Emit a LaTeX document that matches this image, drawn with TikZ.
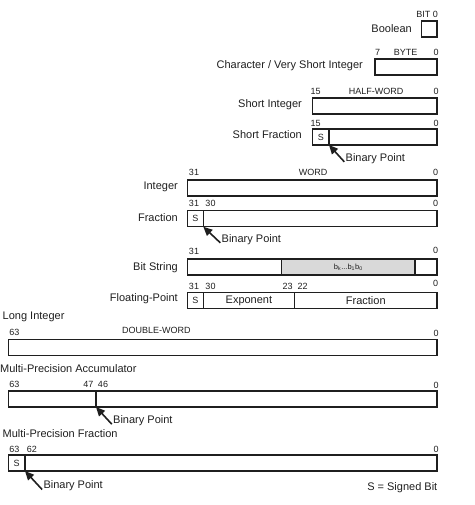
\documentclass[tikz,border=0pt]{standalone}
\usepackage{fontspec}
\setmainfont{Liberation Sans}
\usetikzlibrary{arrows.meta}
\definecolor{ink}{HTML}{1F1F1F}
\definecolor{shade}{HTML}{D9D9D9}
\begin{document}
\begin{tikzpicture}[x=1pt,y=-1pt,
  cell/.style={draw=ink, line width=1.3pt, minimum height=16pt, inner sep=0pt, outer sep=0pt, anchor=west, text=ink, font=\fontsize{9}{10}\selectfont},
  lbl/.style={font=\fontsize{11}{13}\selectfont, text=ink, inner sep=0pt},
  num/.style={font=\fontsize{9}{10}\selectfont, text=ink, inner sep=0pt},
  bparrow/.style={draw=ink, line width=1.6pt, -{Triangle[length=9pt,width=8pt]}}]
\useasboundingbox (0,0) rectangle (474,505);

% Boolean
\node[num] (bit0) at (427,14) {BIT 0};
\node[cell, minimum width=15.5pt] (bool) at (421.5,29) {};
\node[lbl, anchor=east] (lbool) at (412,29) {Boolean};

% Byte
\node[num] (b7) at (377.5,52.3) {7};
\node[num] (bbyte) at (405.5,52.3) {BYTE};
\node[num] (b0) at (436,52.3) {0};
\node[cell, minimum width=62pt] (byte) at (375,67) {};
\node[lbl, anchor=east] (lbyte) at (363,65.5) {Character / Very Short Integer};

% Half word
\node[num] (h15) at (315.5,91.7) {15};
\node[num] (hhw) at (376,91.7) {HALF-WORD};
\node[num] (h0) at (436,91.7) {0};
\node[cell, minimum width=124.5pt] (hw) at (312.5,106) {};
\node[lbl, anchor=east] (lsi) at (302,104.3) {Short Integer};

% Short fraction
\node[num] (s15) at (315.5,123.3) {15};
\node[num] (s0) at (436,123.3) {0};
\node[cell, minimum width=16.5pt] (sfS) at (312.5,137) {S};
\node[cell, minimum width=108pt] (sfR) at (329,137) {};
\node[lbl, anchor=east] (lsf) at (302,135) {Short Fraction};
\node[lbl, anchor=west] (bp1) at (345.5,158.3) {Binary Point};
\draw[bparrow] ([xshift=-1.2pt,yshift=-3.5pt]bp1.west) -- (sfS.south east);

% Word
\node[num] (w31) at (194,172.7) {31};
\node[num] (wword) at (313,172.7) {WORD};
\node[num] (w0) at (435.7,172) {0};
\node[cell, minimum width=249.7pt] (word) at (187.3,188) {};
\node[lbl, anchor=east] (lint) at (178,187) {Integer};

% Fraction
\node[num] (f31) at (194,203.3) {31};
\node[num] (f30) at (210.5,203.3) {30};
\node[num] (f0) at (435.7,203) {0};
\node[cell, minimum width=16pt] (frS) at (187.3,218.7) {S};
\node[cell, minimum width=233.7pt] (frR) at (203.3,218.7) {};
\node[lbl, anchor=east] (lfr) at (178,218) {Fraction};
\node[lbl, anchor=west] (bp2) at (221.5,239.3) {Binary Point};
\draw[bparrow] ([xshift=-1.2pt,yshift=-3.5pt]bp2.west) -- (frS.south east);

% Bit string
\node[num] (bs31) at (194,251.7) {31};
\node[num] (bs0) at (435.7,250.3) {0};
\node[cell, minimum width=94.4pt] (bsA) at (187.3,267) {};
\node[cell, minimum width=133.3pt, fill=shade, font=\fontsize{7.5}{8}\selectfont] (bsG) at (281.7,267) {b\textsubscript{k}...b\textsubscript{1}b\textsubscript{0}};
\node[cell, minimum width=22pt] (bsB) at (415,267) {};
\node[lbl, anchor=east] (lbs) at (178,268) {Bit String};

% Floating point
\node[num] (fp31) at (194,286) {31};
\node[num] (fp30) at (210.5,286) {30};
\node[num] (fp23) at (287.5,286) {23};
\node[num] (fp22) at (302.5,286) {22};
\node[num] (fp0) at (435.7,283.5) {0};
\node[cell, minimum width=16pt] (fpS) at (187.3,300.5) {S};
\node[cell, minimum width=91.2pt, font=\fontsize{11}{13}\selectfont] (fpE) at (203.3,300.5) {Exponent};
\node[cell, minimum width=142.5pt, font=\fontsize{11}{13}\selectfont] (fpF) at (294.5,300.5) {Fraction};
\node[lbl, anchor=east] (lfp) at (178,298.5) {Floating-Point};

% Long integer
\node[lbl, anchor=west] (lli) at (2.5,317.3) {Long Integer};
\node[num] (d63) at (14.3,332.3) {63};
\node[num] (ddw) at (156.3,330.7) {DOUBLE-WORD};
\node[num] (d0) at (436,333.3) {0};
\node[cell, minimum width=428.7pt] (dw) at (8.3,347.5) {};

% Multi-precision accumulator
\node[lbl, anchor=west] (lmpa) at (0,368.3) {Multi-Precision Accumulator};
\node[num] (a63) at (14.3,384.3) {63};
\node[num] (a47) at (88.3,384.8) {47};
\node[num] (a46) at (103,384.8) {46};
\node[num] (a0) at (436,385) {0};
\node[cell, minimum width=87.7pt] (mpaA) at (8.3,399) {};
\node[cell, minimum width=341pt] (mpaB) at (96,399) {};
\node[lbl, anchor=west] (bp3) at (113,420.7) {Binary Point};
\draw[bparrow] ([xshift=-1.2pt,yshift=-3.5pt]bp3.west) -- (mpaA.south east);

% Multi-precision fraction
\node[lbl, anchor=west] (lmpf) at (2.5,434) {Multi-Precision Fraction};
\node[num] (m63) at (14.3,449.3) {63};
\node[num] (m62) at (32,449.3) {62};
\node[num] (m0) at (436,449.3) {0};
\node[cell, minimum width=16.7pt] (mpfS) at (8.3,463) {S};
\node[cell, minimum width=412pt] (mpfR) at (25,463) {};
\node[lbl, anchor=west] (bp4) at (43.3,486) {Binary Point};
\draw[bparrow] ([xshift=-1.2pt,yshift=-3.5pt]bp4.west) -- (mpfS.south east);

\node[lbl, anchor=east] (legend) at (437.5,488) {S = Signed Bit};
\end{tikzpicture}
\end{document}
